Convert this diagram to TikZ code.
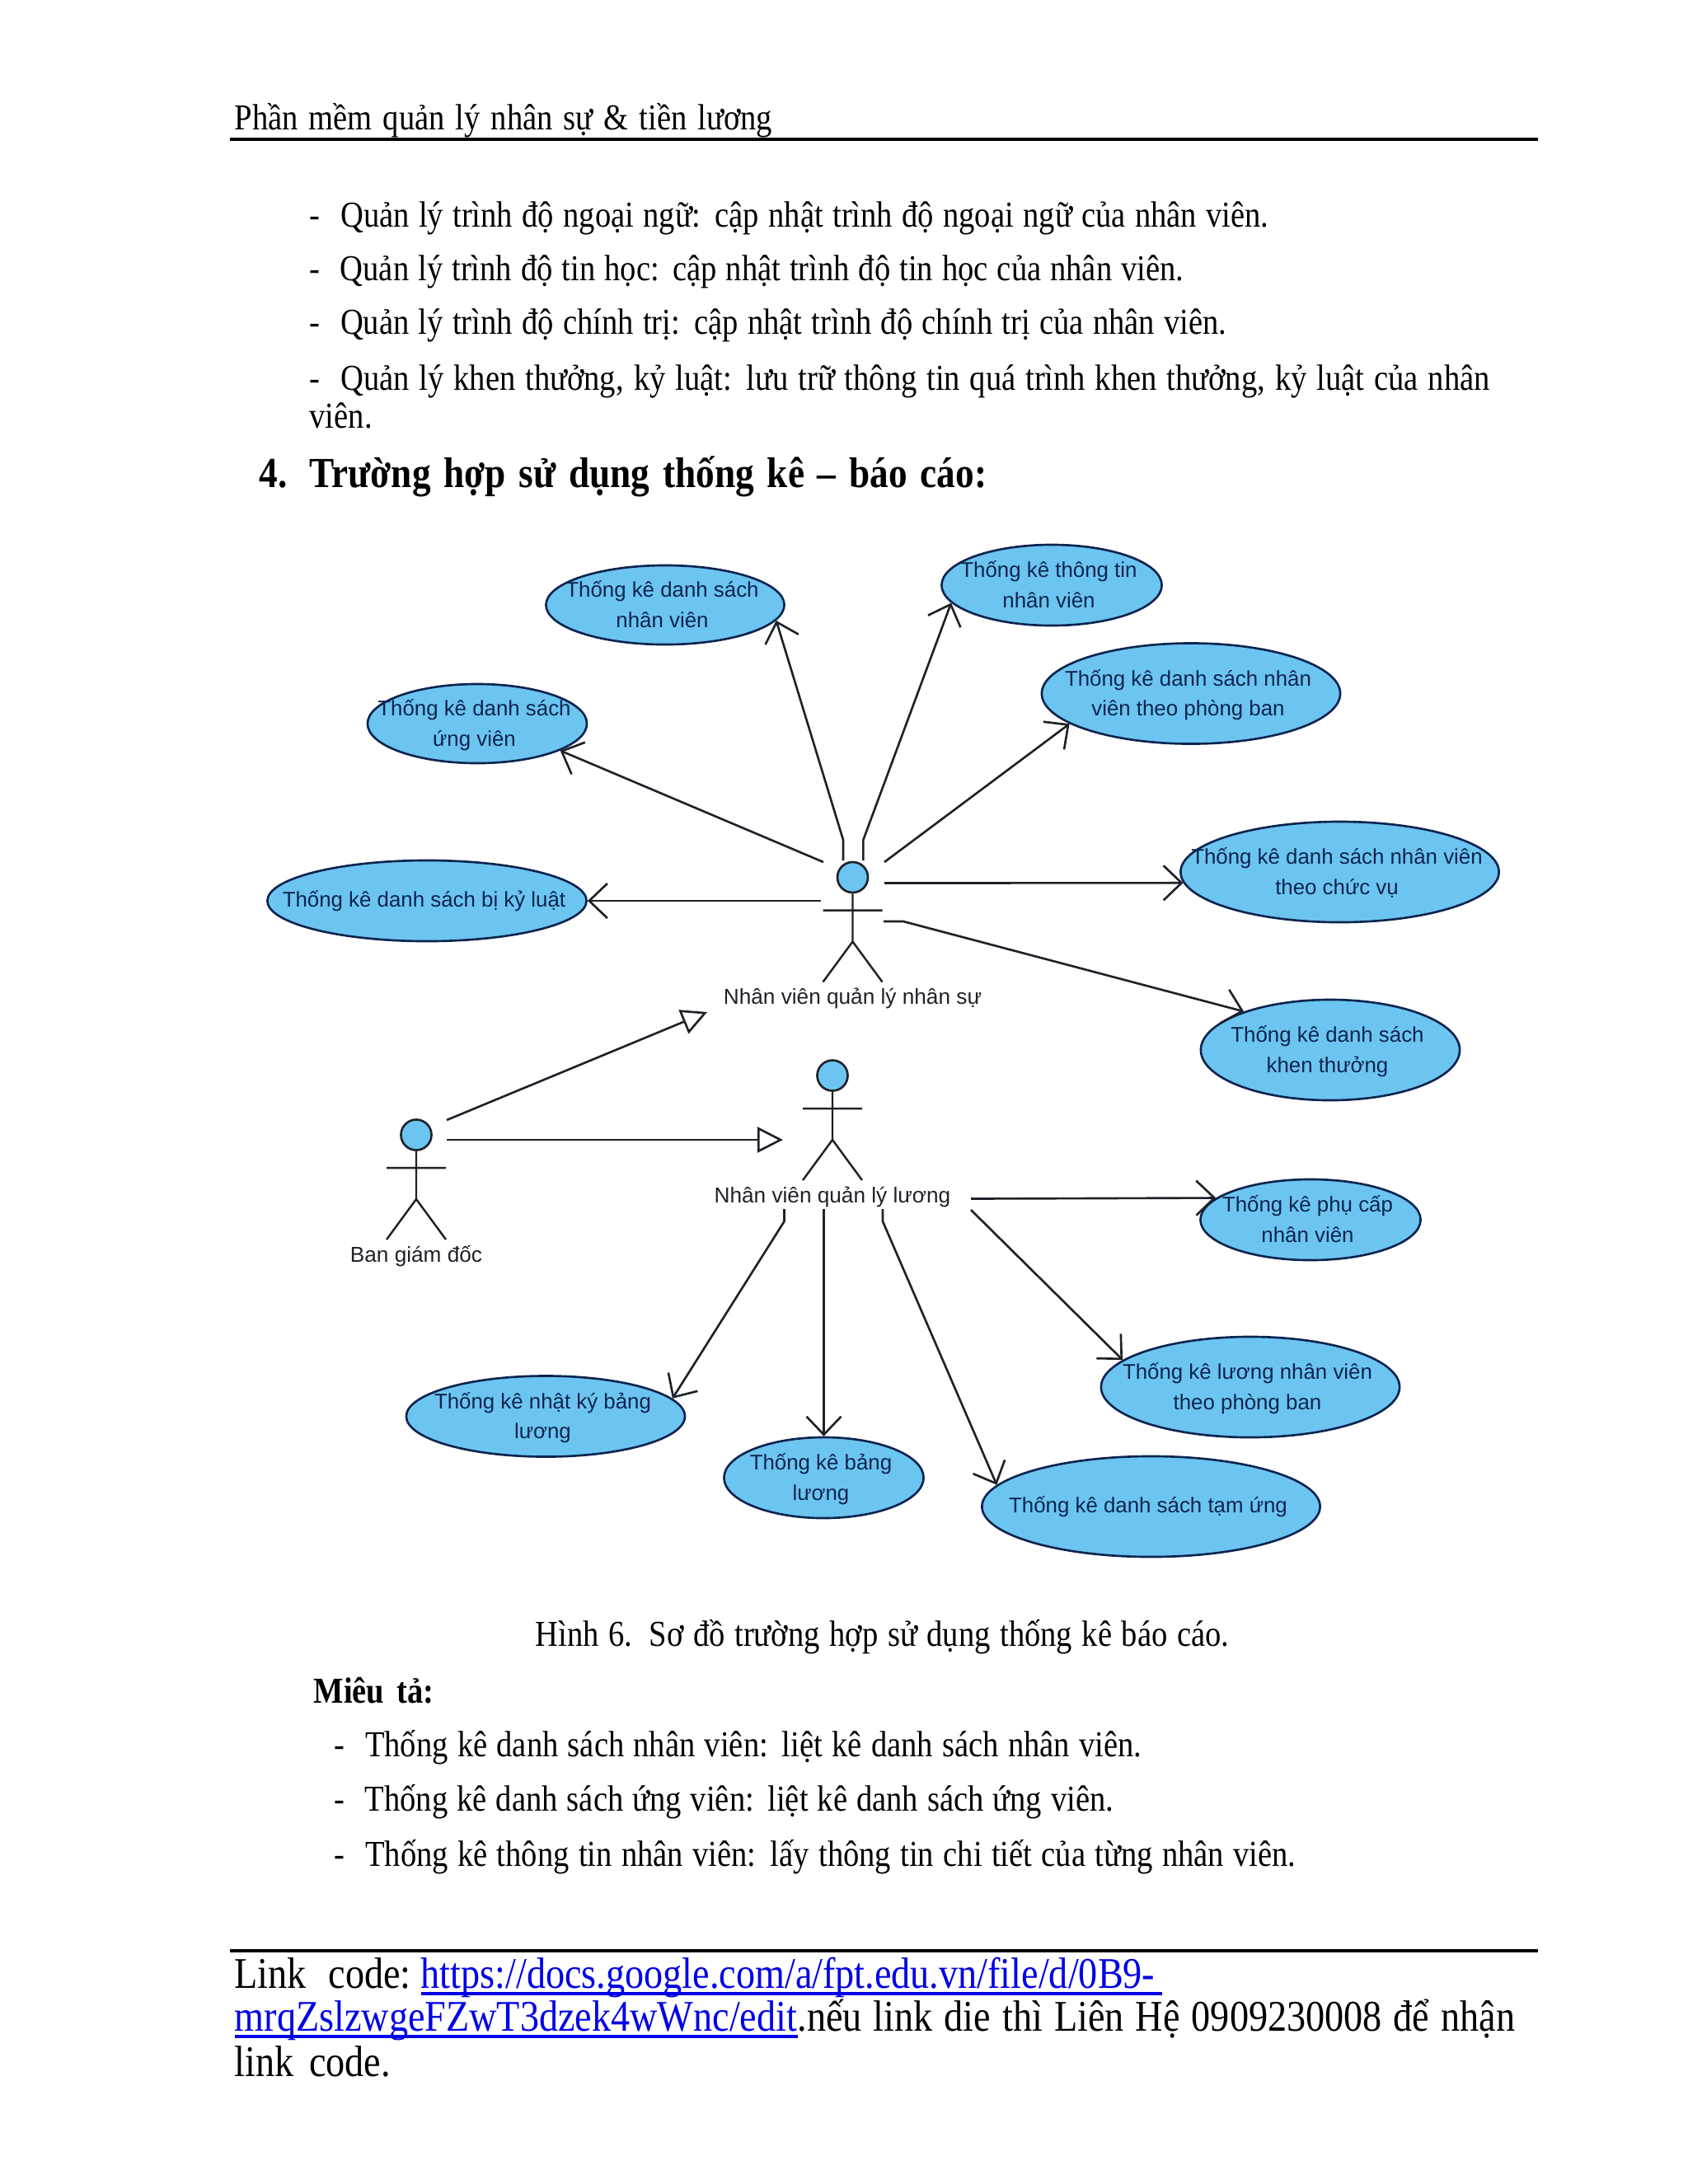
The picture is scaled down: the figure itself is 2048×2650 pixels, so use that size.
\documentclass[tikz,border=0pt]{standalone}
\usepackage{fontspec}
\setmainfont[FakeStretch=0.87]{Liberation Serif}
\newfontfamily\diagramfont{Liberation Sans}
\usetikzlibrary{positioning, arrows.meta, calc, shapes.geometric}

\definecolor{ucfill}{RGB}{108,197,240}
\definecolor{ucink}{RGB}{12,36,80}
\definecolor{lineink}{RGB}{30,34,40}
\definecolor{linkblue}{RGB}{0,0,230}

% A line stretched to the width it has on the page
\newcommand{\fitline}[2]{\hbox to #1{\spaceskip=.2em plus 1fil minus .1em\relax #2}}
\newcommand{\dashmark}{-\kern.3em}
% Centred lines that take no room in their node
\newcommand{\uclines}[2]{\makebox[0pt]{\kern-.07cm\smash{\raisebox{-.3em}{\begin{tabular}{@{}c@{}}#1\\#2\end{tabular}}}}}
\newcommand{\ucline}[1]{\makebox[0pt]{\kern-.07cm\raisebox{-.3em}{#1}}}
\newcommand{\linktext}[2]{\textcolor{linkblue}{\rlap{\rule[-.16em]{#1}{.07em}}#2}}

\begin{document}
\begin{tikzpicture}[
  x=.01cm, y=-.01cm,
  body/.style = {anchor=base west, inner sep=0pt, font=\fontsize{12.6}{15}\selectfont},
  title/.style = {anchor=base west, inner sep=0pt, font=\fontsize{14.8}{17}\selectfont\bfseries},
  foot/.style = {anchor=base west, inner sep=0pt, font=\fontsize{15.1}{17}\selectfont},
  rulebar/.style = {line width=.9pt},
  usecase/.style 2 args = {ellipse, draw=ucink, fill=ucfill, line width=.75pt, inner sep=0pt,
    minimum width=#1, minimum height=#2, text=ucink,
    font=\diagramfont\fontsize{7.35}{10.5}\selectfont},
  actorhead/.style = {circle, draw=lineink, fill=ucfill, line width=.75pt, inner sep=0pt, minimum size=.37cm},
  actorlimb/.style = {draw=lineink, line width=.7pt},
  actorname/.style = {inner sep=0pt, text=lineink, font=\diagramfont\fontsize{7.45}{10}\selectfont},
  assoc/.style = {draw=lineink, line width=.75pt, -{Straight Barb[length=.22cm,width=.42cm]}},
  inherit/.style = {draw=lineink, line width=.75pt, -{Triangle[open,length=.31cm,width=.31cm,fill=white]}}
]
  \useasboundingbox (0,0) rectangle (2048,2650);

  % Page header
  \node[body] (header) at (284,157) {\fitline{6.52cm}{Phần mềm quản lý nhân sự \& tiền lương}};
  \coordinate (rule_top_l) at (279,169);
  \coordinate (rule_top_r) at (1866,169);
  \path[draw, rulebar] (rule_top_l) -- (rule_top_r);

  % Text above the figure
  \node[body] (line_1) at (375,275) {\fitline{11.63cm}{\dashmark{} Quản lý trình độ ngoại ngữ: cập nhật trình độ ngoại ngữ của nhân viên.}};
  \node[body] (line_2) at (375,340) {\fitline{10.6cm}{\dashmark{} Quản lý trình độ tin học: cập nhật trình độ tin học của nhân viên.}};
  \node[body] (line_3) at (375,405) {\fitline{11.12cm}{\dashmark{} Quản lý trình độ chính trị: cập nhật trình độ chính trị của nhân viên.}};
  \node[body] (line_4) at (375,473) {\fitline{14.31cm}{\dashmark{} Quản lý khen thưởng, kỷ luật: lưu trữ thông tin quá trình khen thưởng, kỷ luật của nhân}};
  \node[body] (line_5) at (375,519) {viên.};
  \node[title] (title_no) at (314,591.5) {4.};
  \node[title] (title_text) at (375,591.5) {\fitline{8.21cm}{Trường hợp sử dụng thống kê – báo cáo:}};

  % Use cases
  \node[usecase={2.89cm}{.96cm}] (uc_staff) at (807,734) {\uclines{Thống kê danh sách}{nhân viên}};
  \node[usecase={2.67cm}{.98cm}] (uc_info) at (1276,710) {\uclines{Thống kê thông tin}{nhân viên}};
  \node[usecase={3.62cm}{1.22cm}] (uc_dept) at (1445,841.5) {\uclines{Thống kê danh sách nhân}{viên theo phòng ban}};
  \node[usecase={2.66cm}{.96cm}] (uc_applicant) at (579,878) {\uclines{Thống kê danh sách}{ứng viên}};
  \node[usecase={3.86cm}{1.22cm}] (uc_position) at (1625.5,1058) {\uclines{Thống kê danh sách nhân viên}{theo chức vụ}};
  \node[usecase={3.87cm}{.98cm}] (uc_discipline) at (518,1093) {\ucline{Thống kê danh sách bị kỷ luật}};
  \node[usecase={3.14cm}{1.22cm}] (uc_reward) at (1614,1274) {\uclines{Thống kê danh sách}{khen thưởng}};
  \node[usecase={2.67cm}{.98cm}] (uc_allow) at (1590,1480) {\uclines{Thống kê phụ cấp}{nhân viên}};
  \node[usecase={3.62cm}{1.22cm}] (uc_wage) at (1517,1683) {\uclines{Thống kê lương nhân viên}{theo phòng ban}};
  \node[usecase={3.38cm}{.98cm}] (uc_log) at (662,1718.5) {\uclines{Thống kê nhật ký bảng}{lương}};
  \node[usecase={2.42cm}{.98cm}] (uc_sheet) at (999.5,1793) {\uclines{Thống kê bảng}{lương}};
  \node[usecase={4.1cm}{1.22cm}] (uc_advance) at (1396.5,1828) {\ucline{Thống kê danh sách tạm ứng}};

  % Actors
  \foreach \name/\x/\y/\who in {hr/1034.5/1064.5/Nhân viên quản lý nhân sự,
      pay/1010/1305/Nhân viên quản lý lương, boss/505/1377/Ban giám đốc} {
    \node[actorhead] (\name_head) at (\x,\y) {};
    \coordinate (\name_hip) at ($(\name_head.center)+(0,78)$);
    \coordinate (\name_foot) at ($(\name_head.center)+(0,127)$);
    \path[actorlimb]
      (\name_head.south) -- (\name_hip)
      ($(\name_head.center)+(-36,40)$) -- ($(\name_head.center)+(36,40)$)
      ($(\name_foot)+(-36,0)$) -- (\name_hip) -- ($(\name_foot)+(36,0)$)
    ;
    \node[actorname] (\name_label) [below=.07cm of \name_foot] {\who};
  }

  % Free ends of the connectors
  \coordinate (hr_n_l) at (1023,1044);
  \coordinate (hr_n_r) at (1047.4,1044);
  \coordinate (hr_nw) at (999,1046);
  \coordinate (hr_w) at (996,1093);
  \coordinate (hr_ne) at (1073,1046);
  \coordinate (hr_e) at (1073,1071.5);
  \coordinate (hr_se) at (1072,1118);
  \coordinate (boss_ne) at (542,1359);
  \coordinate (boss_e) at (542,1383);
  \coordinate (hr_gen) at (858,1228);
  \coordinate (pay_gen) at (950,1383);
  \coordinate (pay_s_l) at (951.5,1467);
  \coordinate (pay_s_m) at (999.5,1467);
  \coordinate (pay_s_r) at (1071,1467);
  \coordinate (pay_e) at (1178,1454.5);
  \coordinate (pay_se) at (1178,1468);

  % Connectors of the first actor
  \path[assoc] (hr_n_l) -- ++(0,-25) -- (uc_staff.-8);
  \path[assoc] (hr_n_r) -- ++(0,-25) -- (uc_info.190);
  \path[assoc] (hr_nw) -- (uc_applicant.-18);
  \path[assoc] (hr_w) -- (uc_discipline.east);
  \path[assoc] (hr_ne) -- (uc_dept.194);
  \path[assoc] (hr_e) -- (uc_position.184);
  \path[assoc] (hr_se) -- ++(24,0) -- (uc_reward.156.5);

  % Connectors of the second actor
  \path[assoc] (pay_e) -- (uc_allow.167.7);
  \path[assoc] (pay_se) -- (uc_wage.168);
  \path[assoc] (pay_s_l) -- ++(0,15) -- (uc_log.8);
  \path[assoc] (pay_s_m) -- (uc_sheet.north);
  \path[assoc] (pay_s_r) -- ++(0,15) -- (uc_advance.172.3);

  % Generalisations
  \path[inherit] (boss_ne) -- (hr_gen);
  \path[inherit] (boss_e) -- (pay_gen);

  % Text below the figure
  \node[body] (caption) at (649,1997) {\fitline{8.41cm}{Hình 6. Sơ đồ trường hợp sử dụng thống kê báo cáo.}};
  \node[body] (desc_head) at (380,2066) {\bfseries\fitline{1.46cm}{Miêu tả:}};
  \node[body] (desc_1) at (405,2131) {\fitline{9.79cm}{\dashmark{} Thống kê danh sách nhân viên: liệt kê danh sách nhân viên.}};
  \node[body] (desc_2) at (405,2197) {\fitline{9.45cm}{\dashmark{} Thống kê danh sách ứng viên: liệt kê danh sách ứng viên.}};
  \node[body] (desc_3) at (405,2264) {\fitline{11.66cm}{\dashmark{} Thống kê thông tin nhân viên: lấy thông tin chi tiết của từng nhân viên.}};

  % Page footer
  \coordinate (rule_bot_l) at (279,2367);
  \coordinate (rule_bot_r) at (1866,2367);
  \path[draw, rulebar] (rule_bot_l) -- (rule_bot_r);
  \node[foot] (foot_1) at (284,2412) {\fitline{2.14cm}{Link code:}};
  \node[foot] (foot_link_1) at (510,2412) {\linktext{8.99cm}{https://docs.google.com/a/fpt.edu.vn/file/d/0B9-}};
  \node[foot] (foot_link_2) at (284,2464) {\linktext{6.83cm}{mrqZslzwgeFZwT3dzek4wWnc/edit}};
  \node[foot] (foot_2) at (967,2464) {\fitline{8.7cm}{.nếu link die thì Liên Hệ 0909230008 để nhận}};
  \node[foot] (foot_3) at (284,2519) {\fitline{1.89cm}{link code.}};
\end{tikzpicture}
\end{document}
